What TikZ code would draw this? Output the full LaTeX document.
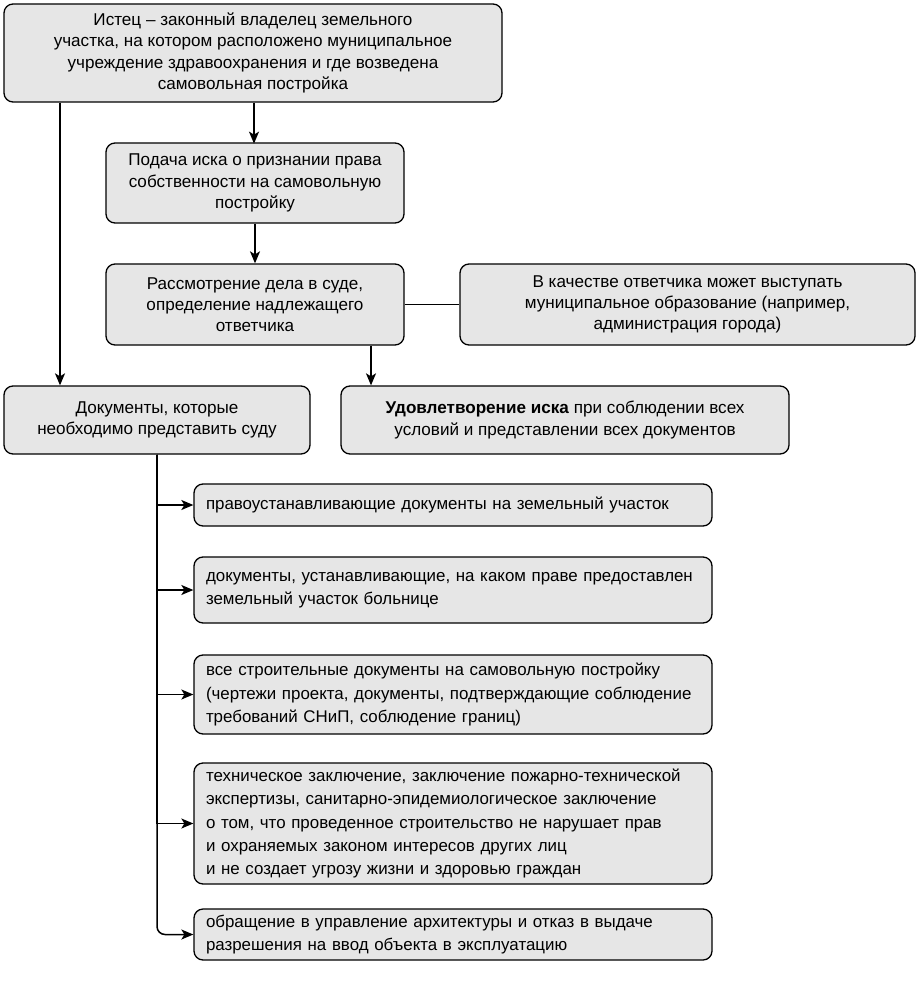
\documentclass[tikz,border=0pt]{standalone}
\usepackage{fontspec}
\setmainfont{Liberation Sans}
\usetikzlibrary{arrows.meta}
\begin{document}
\begin{tikzpicture}[x=1pt,y=-1pt,
  box/.style={draw=black, line width=1.3pt, fill=boxgray, rounded corners=9pt, inner sep=0pt, align=center, font=\fontsize{17.1}{21.2}\selectfont},
  lbox/.style={box, align=left, text width=494pt, inner xsep=12pt, font=\fontsize{16.9}{23.3}\selectfont},
  conn/.style={line width=1.5pt, -{Stealth[length=12pt,width=10pt,inset=3pt]}},
  plain/.style={line width=1.5pt}]
\definecolor{boxgray}{HTML}{E6E6E6}
\useasboundingbox (0,0) rectangle (919,981);
\node[box, minimum width=498pt, minimum height=98pt] (b1) at (253,53) {Истец – законный владелец земельного\\участка, на котором расположено муниципальное\\учреждение здравоохранения и где возведена\\самовольная постройка};
\node[box, minimum width=298pt, minimum height=80pt] (b2) at (255,183) {Подача иска о признании права\\собственности на самовольную\\постройку};
\node[box, minimum width=298pt, minimum height=81pt] (b3) at (255,304.5) {Рассмотрение дела в суде,\\определение надлежащего\\ответчика};
\node[box, minimum width=455pt, minimum height=81pt] (b4) at (687.5,304.5) {В качестве ответчика может выступать\\муниципальное образование (например,\\администрация города)};
\node[box, minimum width=306pt, minimum height=68pt] (b5) at (157,420) {Документы, которые\\необходимо представить суду};
\node[box, minimum width=448pt, minimum height=68pt] (b6) at (565,420) {\textbf{Удовлетворение иска} при соблюдении всех\\условий и представлении всех документов};
\node[lbox, minimum height=42pt] (l1) at (453,505) {правоустанавливающие документы на земельный участок};
\node[lbox, minimum height=66pt] (l2) at (453,590) {документы, устанавливающие, на каком праве предоставлен\\земельный участок больнице};
\node[lbox, minimum height=79pt] (l3) at (453,694.5) {все строительные документы на самовольную постройку\\(чертежи проекта, документы, подтверждающие соблюдение\\требований СНиП, соблюдение границ)};
\node[lbox, minimum height=121pt] (l4) at (453,823.5) {техническое заключение, заключение пожарно-технической\\экспертизы, санитарно-эпидемиологическое заключение\\о том, что проведенное строительство не нарушает прав\\и охраняемых законом интересов других лиц\\и не создает угрозу жизни и здоровью граждан};
\node[lbox, minimum height=51pt] (l5) at (453,934.5) {обращение в управление архитектуры и отказ в выдаче\\разрешения на ввод объекта в эксплуатацию};

\draw[conn] (b1.south -| b2.north) ++(-1,0) -- ++(0,41);
\draw[conn] (b2) -- (b3);
\draw[conn] (b1.south -| 60,0) -- (b5.north -| 60,0);
\draw[conn] (b3.south -| 371,0) -- (b6.north -| 371,0);
\draw[plain] (b3.east) -- (b4.west);
\coordinate (t0) at (b5.south);
\draw[conn] (t0) |- (l1.west);
\draw[conn] (t0) |- (l2.west);
\draw[conn] (t0) |- (l3.west);
\draw[conn] (t0) |- (l4.west);
\draw[conn, rounded corners=8pt] (t0) |- (l5.west);
\end{tikzpicture}
\end{document}
